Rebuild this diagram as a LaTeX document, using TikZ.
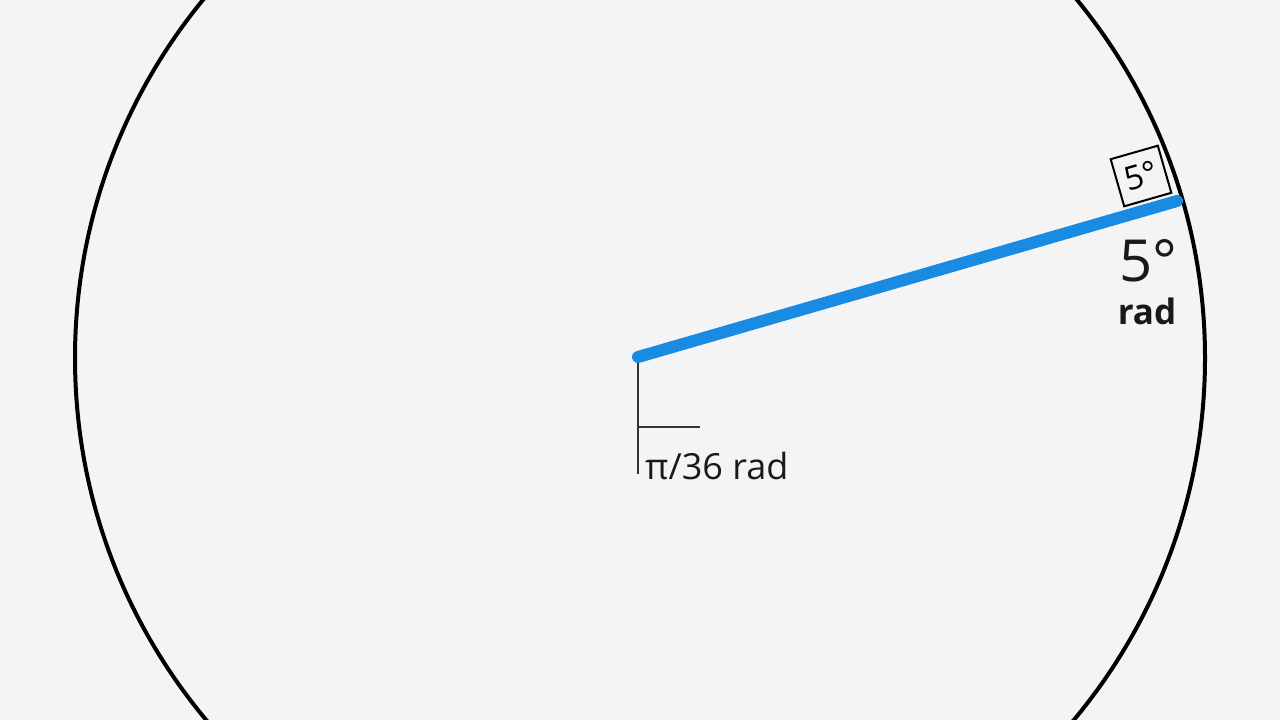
\documentclass[tikz,border=0pt]{standalone}
\usepackage{fontspec}
\setmainfont{Open Sans}
\begin{document}
\begin{tikzpicture}[x=1pt,y=-1pt,
  rim/.style={line width=4pt,draw=black},
  radius line/.style={line width=12pt,draw=beam,line cap=round},
  thin/.style={line width=1.6pt,draw=black!80},
  lbl/.style={inner sep=0pt,text=black!90}]
\definecolor{bg}{HTML}{F4F4F4}
\definecolor{beam}{HTML}{1A8BE3}
\fill[bg] (0,0) rectangle (1280,720);
\useasboundingbox (0,0) rectangle (1280,720);
\clip (0,0) rectangle (1280,720);
\coordinate (O) at (638,357);
\coordinate (E) at (1177,201);
\coordinate (V) at (638,474);
\coordinate (T1) at (638,427);
\coordinate (T2) at (700,427);
\draw[rim] (640,358) circle (565);
\draw[thin] (O) -- (V);
\draw[thin] (T1) -- (T2);
\draw[radius line] (O) -- (E);
\node[draw=black,line width=2pt,minimum size=49pt,inner sep=0pt,rotate=16,font=\fontsize{33}{33}\selectfont] (box) at (1141,176) {5°};
\node[lbl,anchor=base west,font=\fontsize{36}{36}\selectfont] (pi) at (645,479) {π/36 rad};
\node[lbl,anchor=base,font=\fontsize{58}{58}\selectfont] (deg) at (1148,281) {5°};
\node[lbl,anchor=base,font=\fontsize{35}{35}\selectfont\bfseries] (rad) at (1147,324) {rad};
\end{tikzpicture}
\end{document}
